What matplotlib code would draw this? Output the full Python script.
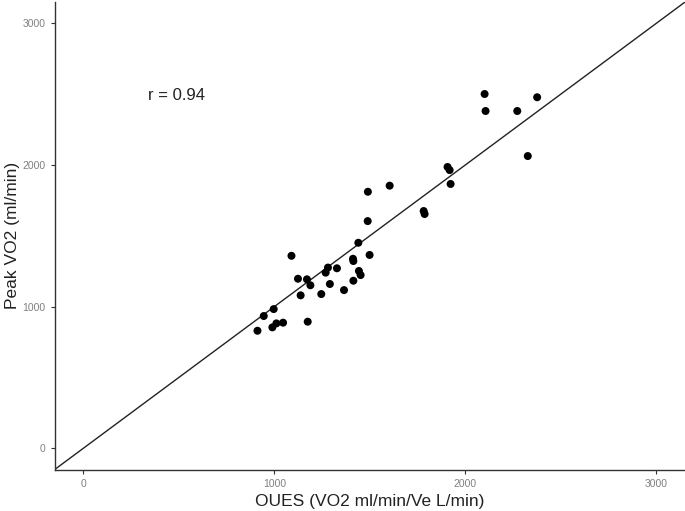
import matplotlib
matplotlib.use("Agg")
import matplotlib.pyplot as plt

plt.rcParams['font.family'] = ['Liberation Sans', 'DejaVu Sans']

# OUES (VO2 ml/min/Ve L/min) vs Peak VO2 (ml/min)
oues = [912, 945, 997, 990, 1011, 1046, 1175, 1090, 1124, 1138,
        1171, 1189, 1246, 1269, 1281, 1291, 1328, 1365, 1412, 1414,
        1414, 1440, 1443, 1452, 1489, 1490, 1499, 1604, 1782, 1787,
        1907, 1918, 1923, 2101, 2106, 2272, 2327, 2376]
peak_vo2 = [830, 934, 983, 854, 882, 887, 894, 1359, 1197, 1080,
            1193, 1151, 1089, 1240, 1276, 1160, 1271, 1117, 1338, 1322,
            1183, 1451, 1252, 1223, 1604, 1811, 1365, 1854, 1675, 1654,
            1986, 1964, 1866, 2501, 2381, 2381, 2063, 2478]
ticks = [0, 1000, 2000, 3000]
r_text = "r = 0.94"

fig = plt.figure(figsize=(6.85, 5.11), dpi=100)
ax = fig.add_axes([0.0797, 0.081, 0.9203, 0.915])

ax.axline((0, 0), slope=1, color="#222222", lw=1.0, zorder=1)
ax.scatter(oues, peak_vo2, s=33, color="black", edgecolors="none", zorder=2)

ax.set_xlim(-150, 3150)
ax.set_ylim(-150, 3150)
ax.set_xticks(ticks)
ax.set_yticks(ticks)
ax.tick_params(labelsize=7.5, labelcolor="#808080", color="#333333",
               length=3, width=0.8)

for side in ["top", "right"]:
    ax.spines[side].set_visible(False)
for side in ["left", "bottom"]:
    ax.spines[side].set_color("#333333")
    ax.spines[side].set_linewidth(1.0)

ax.set_xlabel("OUES (VO2 ml/min/Ve L/min)", fontsize=12.5, color="#222222", labelpad=4)
ax.set_ylabel("Peak VO2 (ml/min)", fontsize=12.5, color="#222222", labelpad=2)

ax.text(490, 2487, r_text, fontsize=12, ha="center", va="center", color="#222222")

fig.savefig("out.png", dpi=100)
